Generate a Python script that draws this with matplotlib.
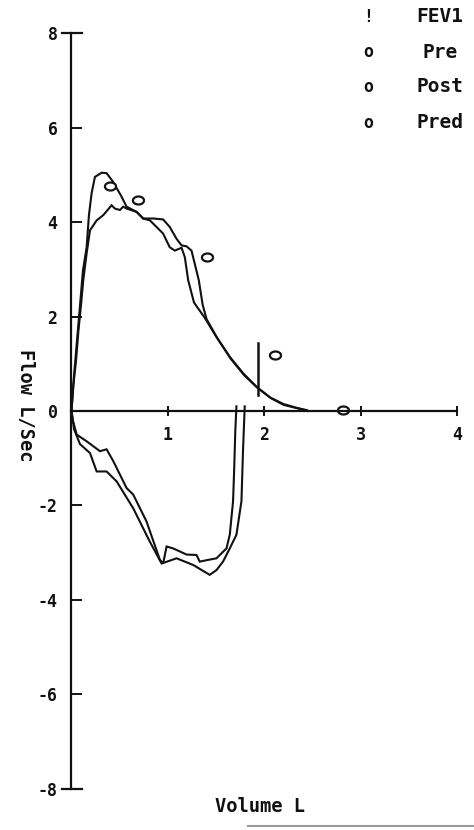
import numpy as np
import matplotlib.pyplot as plt
from matplotlib.lines import Line2D

# expiratory limbs (volume L, flow L/s)
pre_exp_vol = [0, 0.026, 0.057, 0.088, 0.119, 0.157, 0.181, 0.209, 0.243, 0.313, 0.364, 0.430,
               0.520, 0.571, 0.675, 0.743, 0.813, 0.882, 0.950, 1.019, 1.071, 1.141, 1.175, 1.21,
               1.27, 1.38, 1.503, 1.641, 1.78, 1.92, 2.058, 2.196, 2.33, 2.44]
pre_exp_flow = [0, 0.75, 1.49, 2.23, 2.98, 3.47, 4.15, 4.62, 4.96, 5.05, 5.04, 4.86,
                4.54, 4.33, 4.22, 4.08, 4.04, 3.90, 3.76, 3.47, 3.40, 3.46, 3.26, 2.77,
                2.30, 1.98, 1.57, 1.15, 0.80, 0.51, 0.29, 0.15, 0.07, 0.02]

post_exp_vol = [0, 0.019, 0.047, 0.072, 0.098, 0.122, 0.157, 0.192, 0.261, 0.329, 0.416, 0.450,
                0.502, 0.536, 0.571, 0.675, 0.743, 0.847, 0.950, 1.019, 1.089, 1.141, 1.193,
                1.244, 1.278, 1.32, 1.36, 1.40, 1.51, 1.65, 1.79, 1.93, 2.07, 2.20, 2.34, 2.45]
post_exp_flow = [0, 0.53, 1.06, 1.70, 2.23, 2.77, 3.34, 3.83, 4.04, 4.15, 4.36, 4.29,
                 4.26, 4.33, 4.29, 4.22, 4.08, 4.08, 4.06, 3.90, 3.65, 3.51, 3.49,
                 3.40, 3.12, 2.77, 2.25, 1.95, 1.55, 1.11, 0.76, 0.49, 0.27, 0.13, 0.06, 0]

# inspiratory limbs
pre_insp_vol = [0, 0.016, 0.054, 0.157, 0.295, 0.364, 0.433, 0.571, 0.640, 0.778, 0.916, 0.950,
                0.986, 1.054, 1.193, 1.296, 1.330, 1.40, 1.503, 1.607, 1.641, 1.675, 1.687,
                1.698, 1.710]
pre_insp_flow = [0, -0.21, -0.50, -0.64, -0.85, -0.81, -1.06, -1.63, -1.77, -2.34, -3.15, -3.23,
                 -2.87, -2.91, -3.04, -3.05, -3.19, -3.16, -3.12, -2.91, -2.62, -1.91, -1.21,
                 -0.43, 0.1]

post_insp_vol = [0, 0.026, 0.088, 0.192, 0.261, 0.364, 0.468, 0.640, 0.813, 0.934, 1.089, 1.261,
                 1.433, 1.503, 1.571, 1.641, 1.710, 1.762, 1.778, 1.796]
post_insp_flow = [0, -0.38, -0.70, -0.89, -1.28, -1.28, -1.49, -2.06, -2.77, -3.23, -3.12, -3.26,
                  -3.47, -3.37, -3.19, -2.91, -2.62, -1.91, -0.85, 0.1]

# 'o' marks and FEV1 bar
mark_vol = [0.40, 0.69, 1.40, 2.107, 2.81]
mark_flow = [4.77, 4.47, 3.26, 1.19, 0.03]
fev1_vol = 1.936
fev1_flow = [0.35, 1.45]

y_ticks = [-8, -6, -4, -2, 0, 2, 4, 6, 8]
x_ticks = [1, 2, 3, 4]

W, H = 474, 830
fig = plt.figure(figsize=(W / 100, H / 100), dpi=100)
ax = fig.add_axes([0.0694, 0.0214, 0.9158, 0.9667])
ax.set_xlim(-0.4, 4.1)
ax.set_ylim(-8.5, 8.5)

font = 'DejaVu Sans Mono'
ink = '#111111'

for v, f in [(pre_exp_vol, pre_exp_flow), (post_exp_vol, post_exp_flow),
             (pre_insp_vol, pre_insp_flow), (post_insp_vol, post_insp_flow)]:
    ax.plot(v, f, color=ink, lw=1.5, solid_joinstyle='miter')

t = np.linspace(0, 2 * np.pi, 40)
ellipse = np.column_stack([np.cos(t), 0.72 * np.sin(t)])
ax.plot(mark_vol, mark_flow, ls='none', marker=ellipse, ms=8, mfc='white', mec=ink, mew=1.6)
ax.plot([fev1_vol, fev1_vol], fev1_flow, color=ink, lw=1.8)

# axes through the origin
for s in ['top', 'right']:
    ax.spines[s].set_visible(False)
ax.spines['left'].set_position(('data', 0))
ax.spines['bottom'].set_position(('data', 0))
ax.spines['left'].set_bounds(-8, 8)
ax.spines['bottom'].set_bounds(0, 4)
for s in ['left', 'bottom']:
    ax.spines[s].set_linewidth(1.6)
    ax.spines[s].set_color(ink)
ax.plot([-0.098, 0.109], [8, 8], color=ink, lw=1.6)
ax.plot([-0.098, 0.109], [-8, -8], color=ink, lw=1.6)

ax.set_yticks(y_ticks)
ax.set_yticklabels([str(v) for v in y_ticks])
ax.set_xticks(x_ticks)
ax.tick_params(axis='y', direction='in', length=8, width=1.4, pad=10, colors=ink)
ax.tick_params(axis='x', direction='inout', length=7, width=1.4, pad=7.5, colors=ink)
for lab in ax.get_xticklabels() + ax.get_yticklabels():
    lab.set_fontfamily(font)
    lab.set_fontweight('bold')
    lab.set_fontsize(12)

# axis titles
fig.text(25 / W, 1 - 405 / H, 'Flow L/Sec', rotation=-90, ha='center', va='center',
         family=font, weight='bold', fontsize=13.5, color=ink)
fig.text(260 / W, 1 - 806 / H, 'Volume L', ha='center', va='center',
         family=font, weight='bold', fontsize=13.5, color=ink)

# key
key_sym = ['!', 'o', 'o', 'o']
key_txt = ['FEV1', 'Pre', 'Post', 'Pred']
key_y = [17, 52, 87, 123]
for s, k, y in zip(key_sym, key_txt, key_y):
    fig.text(368 / W, 1 - y / H, s, ha='center', va='center', family=font, weight='bold',
             fontsize=12, color=ink)
    fig.text(440 / W, 1 - y / H, k, ha='center', va='center', family=font, weight='bold',
             fontsize=14, color=ink)

fig.add_artist(Line2D([248 / W, 1], [1 - 826 / H, 1 - 826 / H], color='#999999', lw=1.5))

fig.savefig('out.png', dpi=100)
